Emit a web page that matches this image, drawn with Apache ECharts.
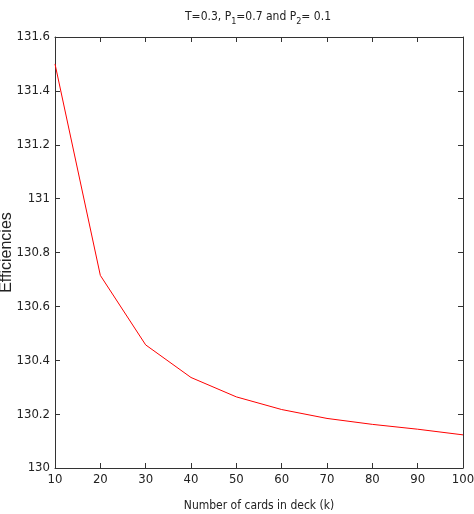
<!DOCTYPE html>
<html><head><meta charset="utf-8">
<script src="https://cdn.jsdelivr.net/npm/echarts@6/dist/echarts.min.js"></script>
<style>html,body{margin:0;padding:0;background:#fff}#c{width:474px;height:514px}</style>
</head><body><div id="c"></div>
<script>
const cards = [10, 20, 30, 40, 50, 60, 70, 80, 90, 100];
const efficiencies = [131.5, 130.715, 130.457, 130.336, 130.264, 130.217, 130.184, 130.162, 130.144, 130.123];
const xTicks = [10, 20, 30, 40, 50, 60, 70, 80, 90, 100];
const yTicks = [130, 130.2, 130.4, 130.6, 130.8, 131, 131.2, 131.4, 131.6];

const FONT = '"DejaVu Sans Condensed", "Liberation Sans Narrow", "Liberation Sans", Arial, sans-serif';
const chart = echarts.init(document.getElementById('c'));
const axisLine = {show: true, lineStyle: {color: '#333', width: 1}};
const tick = {show: true, inside: true, length: 5, lineStyle: {color: '#333'}};
chart.setOption({
  animation: false,
  title: {
    text: 'T=0.3, P{s|1}=0.7 and P{s|2}= 0.1',
    left: 253, top: 3, textAlign: 'center',
    textStyle: {
      fontFamily: FONT, fontSize: 12, fontWeight: 'normal', color: '#222',
      rich: {s: {fontFamily: FONT, fontSize: 9, color: '#222', padding: [9, 0, 0, 0]}}
    }
  },
  grid: {left: 55, right: 11, top: 37, bottom: 46, outerBoundsMode: 'none', containLabel: false},
  xAxis: [{
    type: 'value', min: 10, max: 100, interval: 10,
    name: 'Number of cards in deck (k)', nameLocation: 'middle', nameGap: 32,
    nameMoveOverlap: false,
    nameTextStyle: {fontFamily: FONT, fontSize: 12, color: '#222'},
    axisLine: axisLine, axisTick: tick,
    axisLabel: {fontFamily: FONT, fontSize: 13, color: '#222', margin: 5, showMaxLabel: true},
    splitLine: {show: false}
  }, {
    type: 'value', min: 10, max: 100, interval: 10, position: 'top',
    axisLine: axisLine, axisTick: tick, axisLabel: {show: false}, splitLine: {show: false}
  }],
  yAxis: [{
    type: 'value', min: 130, max: 131.6, interval: 0.2,
    name: 'Efficiencies', nameLocation: 'middle', nameGap: 40,
    nameMoveOverlap: false,
    nameTextStyle: {fontFamily: 'Liberation Sans, Arial, sans-serif', fontSize: 16, color: '#222'},
    axisLine: axisLine, axisTick: tick,
    axisLabel: {fontFamily: FONT, fontSize: 13, color: '#222', margin: 5,
      formatter: v => String(parseFloat(v.toFixed(1)))},
    splitLine: {show: false}
  }, {
    type: 'value', min: 130, max: 131.6, interval: 0.2, position: 'right',
    axisLine: axisLine, axisTick: tick, axisLabel: {show: false}, splitLine: {show: false}
  }],
  series: [{
    type: 'line', data: cards.map((c, i) => [c, efficiencies[i]]),
    showSymbol: false, lineStyle: {color: '#ff0000', width: 1}, itemStyle: {color: '#ff0000'}
  }]
});
</script></body></html>
